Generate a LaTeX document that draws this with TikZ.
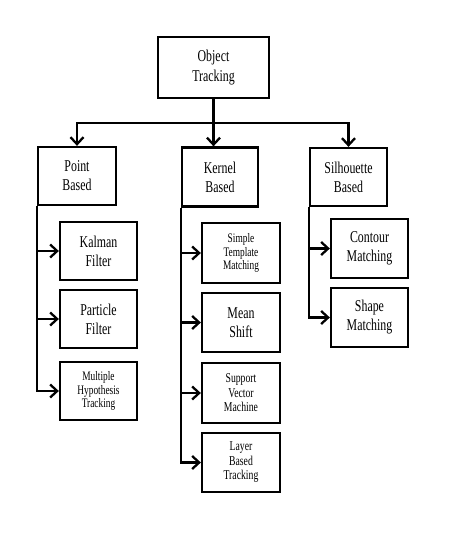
\documentclass[tikz,border=0pt]{standalone}
\usepackage{fontspec}
\setmainfont{Liberation Serif}[FakeStretch=0.72]
\usetikzlibrary{arrows.meta}

\tikzstyle{every node}=[rectangle, draw, line width=2.3pt, align=center, inner sep=1pt, font=\fontsize{16.5}{19}\selectfont]
\tikzstyle{small}=[font=\fontsize{13}{13.8}\selectfont]
\tikzstyle{mid}=[font=\fontsize{13.5}{14.5}\selectfont]
\tikzstyle{link}=[line width=2.3pt, -{Straight Barb[length=7pt,width=13pt,line width=2.3pt]}]

\begin{document}
\begin{tikzpicture}[x=1pt, y=-1pt]
    \useasboundingbox (0,0) rectangle (474,542);
    \node[minimum width=111pt, minimum height=61pt, font=\fontsize{16.5}{20}\selectfont] (obj) at (213.5,67.5) {Object\\Tracking};
    \node[minimum width=78pt, minimum height=58pt] (point) at (77,176) {Point\\Based};
    \node[minimum width=76pt, minimum height=59pt] (kernel) at (220,177) {Kernel\\Based};
    \node[minimum width=77pt, minimum height=58pt] (silh) at (348.5,177) {Silhouette\\Based};
    % point based
    \node[minimum width=77pt, minimum height=58pt] (kal) at (98.5,251) {Kalman\\Filter};
    \node[minimum width=77pt, minimum height=58pt] (part) at (98.5,319) {Particle\\Filter};
    \node[minimum width=77pt, minimum height=58pt, small] (mht) at (98.5,391) {Multiple\\Hypothesis\\Tracking};
    % kernel based
    \node[minimum width=78pt, minimum height=60pt, small] (stm) at (241,253) {Simple\\Template\\Matching};
    \node[minimum width=78pt, minimum height=59pt] (ms) at (241,322.5) {Mean\\Shift};
    \node[minimum width=78pt, minimum height=60pt, mid] (svm) at (241,393) {Support\\Vector\\Machine};
    \node[minimum width=78pt, minimum height=59pt, mid] (lbt) at (241,462.5) {Layer\\Based\\Tracking};
    % silhouette based
    \node[minimum width=77pt, minimum height=59pt] (cm) at (369.5,248.5) {Contour\\Matching};
    \node[minimum width=77pt, minimum height=59pt] (sm) at (369.5,317.5) {Shape\\Matching};
    \coordinate (bar) at (213.5,123);
    \draw[line width=2.3pt] (obj) -- (bar);
    \draw[line width=2.3pt] (point.north |- bar) -- (silh.north |- bar);
    \draw[link] (bar) -- (bar |- kernel.north);
    \draw[link] (bar) -| (point.north);
    \draw[link] (bar) -| (silh.north);
    % branches
    \draw[link] (point.south west) |- (kal.west);
    \draw[link] (point.south west) |- (part.west);
    \draw[link] (point.south west) |- (mht.west);
    \draw[link] (kernel.south west) |- (stm.west);
    \draw[link] (kernel.south west) |- (ms.west);
    \draw[link] (kernel.south west) |- (svm.west);
    \draw[link] (kernel.south west) |- (lbt.west);
    \draw[link] (silh.south west) |- (cm.west);
    \draw[link] (silh.south west) |- (sm.west);
\end{tikzpicture}
\end{document}
